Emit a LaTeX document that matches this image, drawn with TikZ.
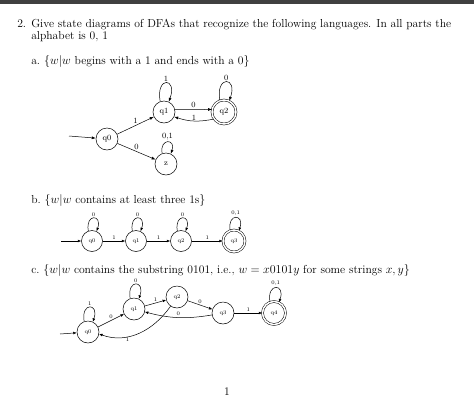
\documentclass[tikz,border=0pt]{standalone}
\usetikzlibrary{arrows.meta}
\tikzset{
  txt/.style={anchor=base west,inner sep=0pt,font=\fontsize{11.6}{14}\selectfont},
  dfa/.style={circle,draw,inner sep=0pt,minimum size=22pt},
  fin/.style={dfa,double,double distance=1.5pt},
  lbl/.style={inner sep=1.5pt},
}
\begin{document}
\begin{tikzpicture}[x=1pt,y=1pt,line width=0.5pt,>={Latex[length=4pt,width=3pt]}]
  \useasboundingbox (0,0) rectangle (474,-402);
  \fill[black!75] (0,0) rectangle (474,-3.5);
  % question text
  \node[txt] (num) at (17,-27) {2.};
  \node[txt] (qa) at (31,-27) {Give state diagrams of DFAs that recognize the following languages. In all parts the};
  \node[txt] (qb) at (31,-39.5) {alphabet is 0, 1};
  \node[txt] (pa) at (31,-64) {a.\hspace{4pt}$\{w|w$ begins with a 1 and ends with a 0$\}$};
  \node[txt] (pb) at (31,-203) {b.\hspace{4pt}$\{w|w$ contains at least three 1s$\}$};
  \node[txt] (pc) at (31,-273) {c.\hspace{4pt}$\{w|w$ contains the substring 0101, i.e., $w=x0101y$ for some strings $x,y\}$};
  \node[txt,anchor=base] (pg) at (227,-395) {1};
  % a
  \begin{scope}[font=\footnotesize]
    \node[dfa] (a0) at (107,-139) {q0};
    \node[dfa] (a1) at (164,-112) {q1};
    \node[fin,minimum size=24pt] (a2) at (224,-112) {q2};
    \node[dfa] (az) at (166,-164) {z};
    \coordinate (ain) at (69,-136);
    \draw[->] (ain) -- (a0);
    \draw[->] (a0) -- node[lbl,above]{1} (a1);
    \draw[->] (a0) -- node[lbl,above]{0} (az);
    \draw[->] (a1.12) -- node[lbl,above]{0} (a2.168);
    \draw[->] (a2.215) to[bend left=15] node[lbl,above,inner sep=0.5pt]{1} (a1.-25);
    \draw[->] (a1.110) to[out=100,in=70,distance=26pt] node[lbl,above]{1} (a1.65);
    \draw[->] (a2.110) to[out=100,in=70,distance=26pt] node[lbl,above]{0} (a2.65);
    \draw[->] (az.110) to[out=100,in=70,distance=16pt] node[lbl,above]{0,1} (az.65);
  \end{scope}
  % b
  \begin{scope}[font=\fontsize{5.5}{6}\selectfont,>={Latex[length=3.5pt,width=2.8pt]},dfa/.append style={minimum size=21pt}]
    \node[dfa] (b0) at (92,-241) {q0};
    \node[dfa] (b1) at (136,-241) {q1};
    \node[dfa] (b2) at (181,-241) {q2};
    \node[fin,minimum size=22pt] (b3) at (234,-241) {q3};
    \coordinate (bin) at (61,-241);
    \draw[->] (bin) -- (b0);
    \draw[->] (b0) -- node[lbl,above]{1} (b1);
    \draw[->] (b1) -- node[lbl,above]{1} (b2);
    \draw[->] (b2) -- node[lbl,above]{1} (b3);
    \foreach \s/\t in {b0/0,b1/0,b2/0,b3/{0,1}}
      \draw[->] (\s.110) to[out=100,in=70,distance=18pt] node[lbl,above]{\t} (\s.65);
  \end{scope}
  % c
  \begin{scope}[font=\fontsize{5.5}{6}\selectfont,>={Latex[length=3.5pt,width=2.8pt]}]
    \node[dfa] (c0) at (88,-332) {q0};
    \node[dfa] (c1) at (134,-309) {q1};
    \node[dfa] (c2) at (177,-297) {q2};
    \node[dfa] (c3) at (223,-313) {q3};
    \node[fin,minimum size=23pt] (c4) at (274,-313) {q4};
    \coordinate (cin) at (60,-334);
    \draw[->] (cin) -- (c0);
    \draw[->] (c0) -- node[lbl,above]{0} (c1);
    \draw[->] (c1) -- node[lbl,above]{1} (c2);
    \draw[->] (c2) -- node[lbl,above]{0} (c3);
    \draw[->] (c3) -- node[lbl,above]{1} (c4);
    \draw[->] (c3.190) to[bend left=12] node[lbl,above]{0} (c1.-15);
    \draw[->] (c2.235) to[out=235,in=-20] node[lbl,below,pos=0.65]{1} (c0.-10);
    \foreach \s/\t in {c0/1,c1/0,c4/{0,1}}
      \draw[->] (\s.110) to[out=100,in=70,distance=20pt] node[lbl,above]{\t} (\s.65);
  \end{scope}
\end{tikzpicture}
\end{document}
